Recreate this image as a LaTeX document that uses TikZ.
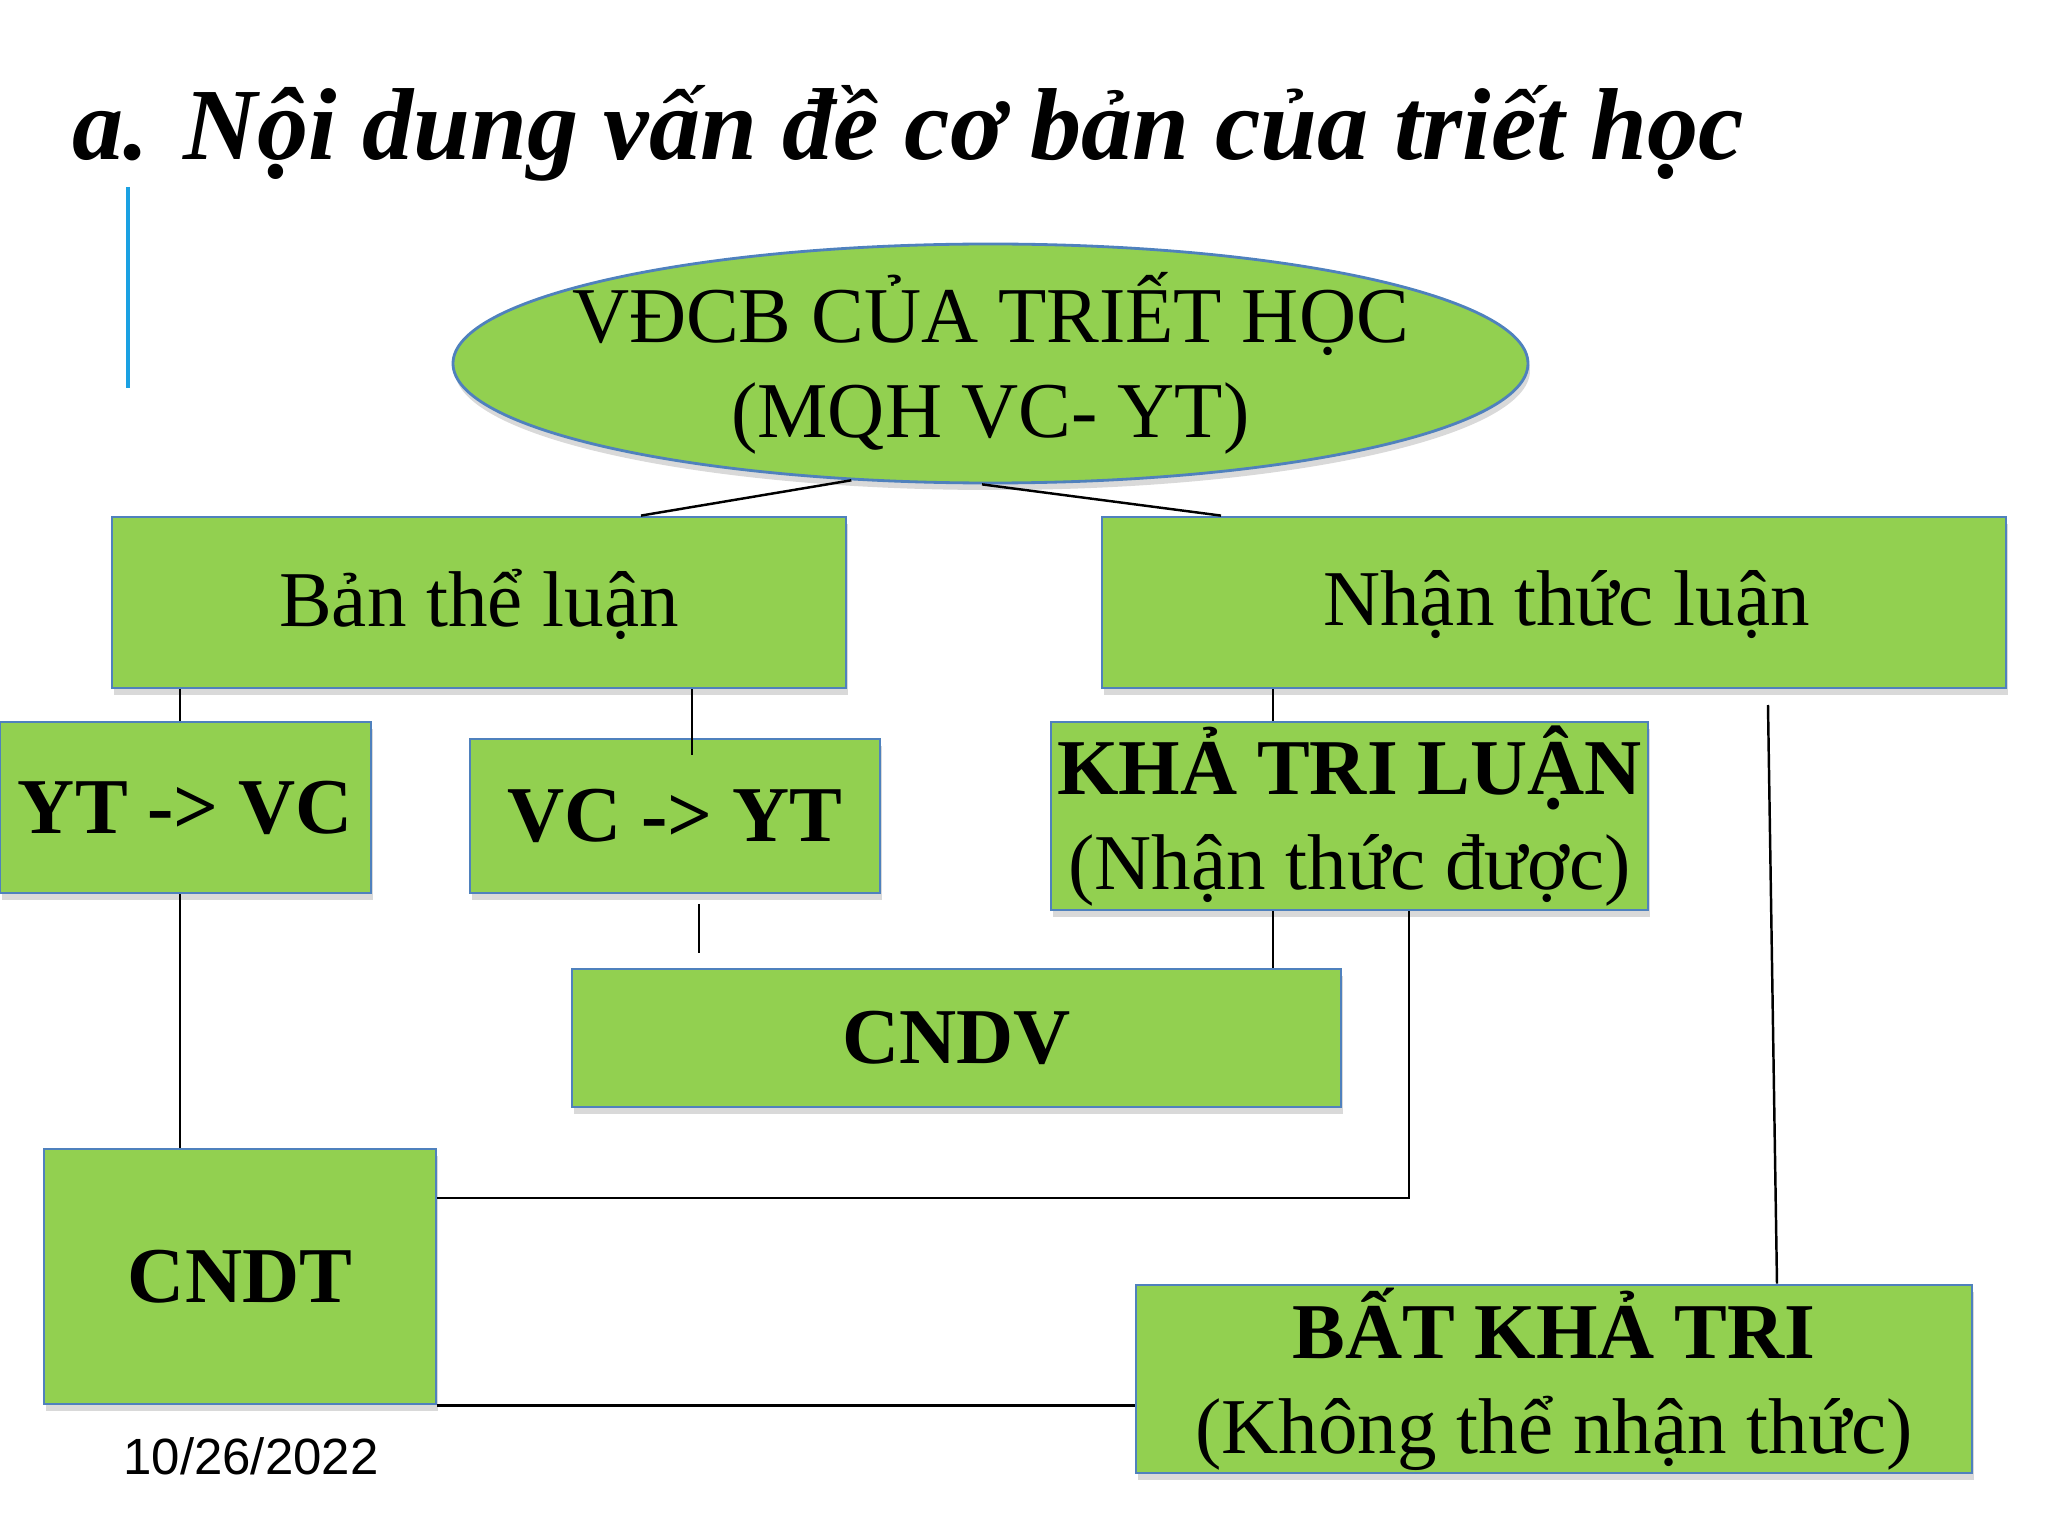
\documentclass[tikz,border=0pt]{standalone}
\usepackage{fontspec}
\setmainfont{Liberation Serif}
\newfontfamily\datefont{Liberation Sans}
\usetikzlibrary{shapes.geometric,shadows}

\definecolor{boxgreen}{HTML}{92D050}
\definecolor{boxline}{HTML}{4F81BD}
\definecolor{barblue}{HTML}{1BA1E2}

\tikzset{
    box/.style={rectangle, draw=boxline, line width=0.8pt, fill=boxgreen, inner sep=0pt, align=center,
        font=\fontsize{22.5}{27}\selectfont,
        drop shadow={shadow xshift=0.02cm, shadow yshift=-0.07cm, opacity=0.3}},
    link/.style={draw=black, line width=0.7pt}
}

\begin{document}
\begin{tikzpicture}
        \useasboundingbox (0,0) rectangle (20.48,-15.36);

        % title and side bar
        \node[anchor=base west, font=\fontsize{29.1}{35}\selectfont\bfseries\itshape] (title) at (0.60,-1.60) {a. Nội dung vấn đề cơ bản của triết học};
        \draw[barblue, line width=1pt] (1.28,-1.87) -- (1.28,-3.88);

        % boxes
        \node[box, ellipse, minimum width=10.75cm, minimum height=2.39cm,
            label={[align=center, font=\fontsize{22.5}{27}\selectfont]center:VĐCB CỦA TRIẾT HỌC\\(MQH VC- YT)}] (vdcb) at (9.905,-3.635) {};
        \node[box, minimum width=7.34cm, minimum height=1.71cm, text depth=0.1cm] (btl) at (4.79,-6.025) {Bản thể luận};
        \node[box, minimum width=9.04cm, minimum height=1.71cm, text depth=0.1cm] (ntl) at (15.54,-6.025) {\hspace*{0.25cm}Nhận thức luận};
        \node[box, font=\fontsize{22.5}{27}\selectfont\bfseries, minimum width=3.71cm, minimum height=1.71cm] (ytvc) at (1.855,-8.075) {YT -> VC};
        \node[box, font=\fontsize{22.5}{27}\selectfont\bfseries, minimum width=4.10cm, minimum height=1.54cm] (vcyt) at (6.75,-8.16) {VC -> YT};
        \node[box, minimum width=5.97cm, minimum height=1.88cm] (ktl) at (13.495,-8.16) {{\bfseries KHẢ TRI LUẬN}\\(Nhận thức được)};
        \node[box, font=\fontsize{22.5}{27}\selectfont\bfseries, minimum width=7.69cm, minimum height=1.38cm] (cndv) at (9.565,-10.38) {CNDV};
        \node[box, font=\fontsize{22.5}{27}\selectfont\bfseries, minimum width=3.92cm, minimum height=2.55cm] (cndt) at (2.40,-12.765) {CNDT};
        \node[box, minimum width=8.36cm, minimum height=1.88cm] (bkt) at (15.54,-13.79) {{\bfseries BẤT KHẢ TRI}\\(Không thể nhận thức)};

        \node[anchor=base west, font=\datefont\fontsize{14.5}{17}\selectfont] (date) at (1.11,-14.74) {10/26/2022};

        % free ends and columns of the connectors
        \coordinate (yx) at (1.80,0);
        \coordinate (vcin) at (6.92,-7.55);
        \coordinate (gapa) at (6.99,-9.04);
        \coordinate (gapb) at (6.99,-9.53);
        \coordinate (kx) at (12.73,0);
        \coordinate (kr) at (14.09,-11.98);
        \coordinate (nfree) at (17.68,-7.05);
        \coordinate (bx) at (17.77,0);

        % connectors
        \draw[link] (vdcb.220) -- ([xshift=1.62cm]btl.north);
        \draw[link] (vdcb.266) -- ([xshift=-3.33cm]ntl.north);
        \draw[link] (yx |- btl.south) -- (yx |- ytvc.north);
        \draw[link] (vcin |- btl.south) -- (vcin);
        \draw[link] (yx |- ytvc.south) -- (yx |- cndt.north);
        \draw[link] (gapa) -- (gapb);
        \draw[link] (kx |- ntl.south) -- (kx |- ktl.north);
        \draw[link] (kx |- ktl.south) -- (kx |- cndv.north);
        \draw[link] (kr |- ktl.south) |- (cndt.east |- kr);
        \draw[link] (nfree) -- (bx |- bkt.north);
        \draw[link] (cndt.south east) -- (cndt.south east -| bkt.west);
    \end{tikzpicture}
\end{document}
